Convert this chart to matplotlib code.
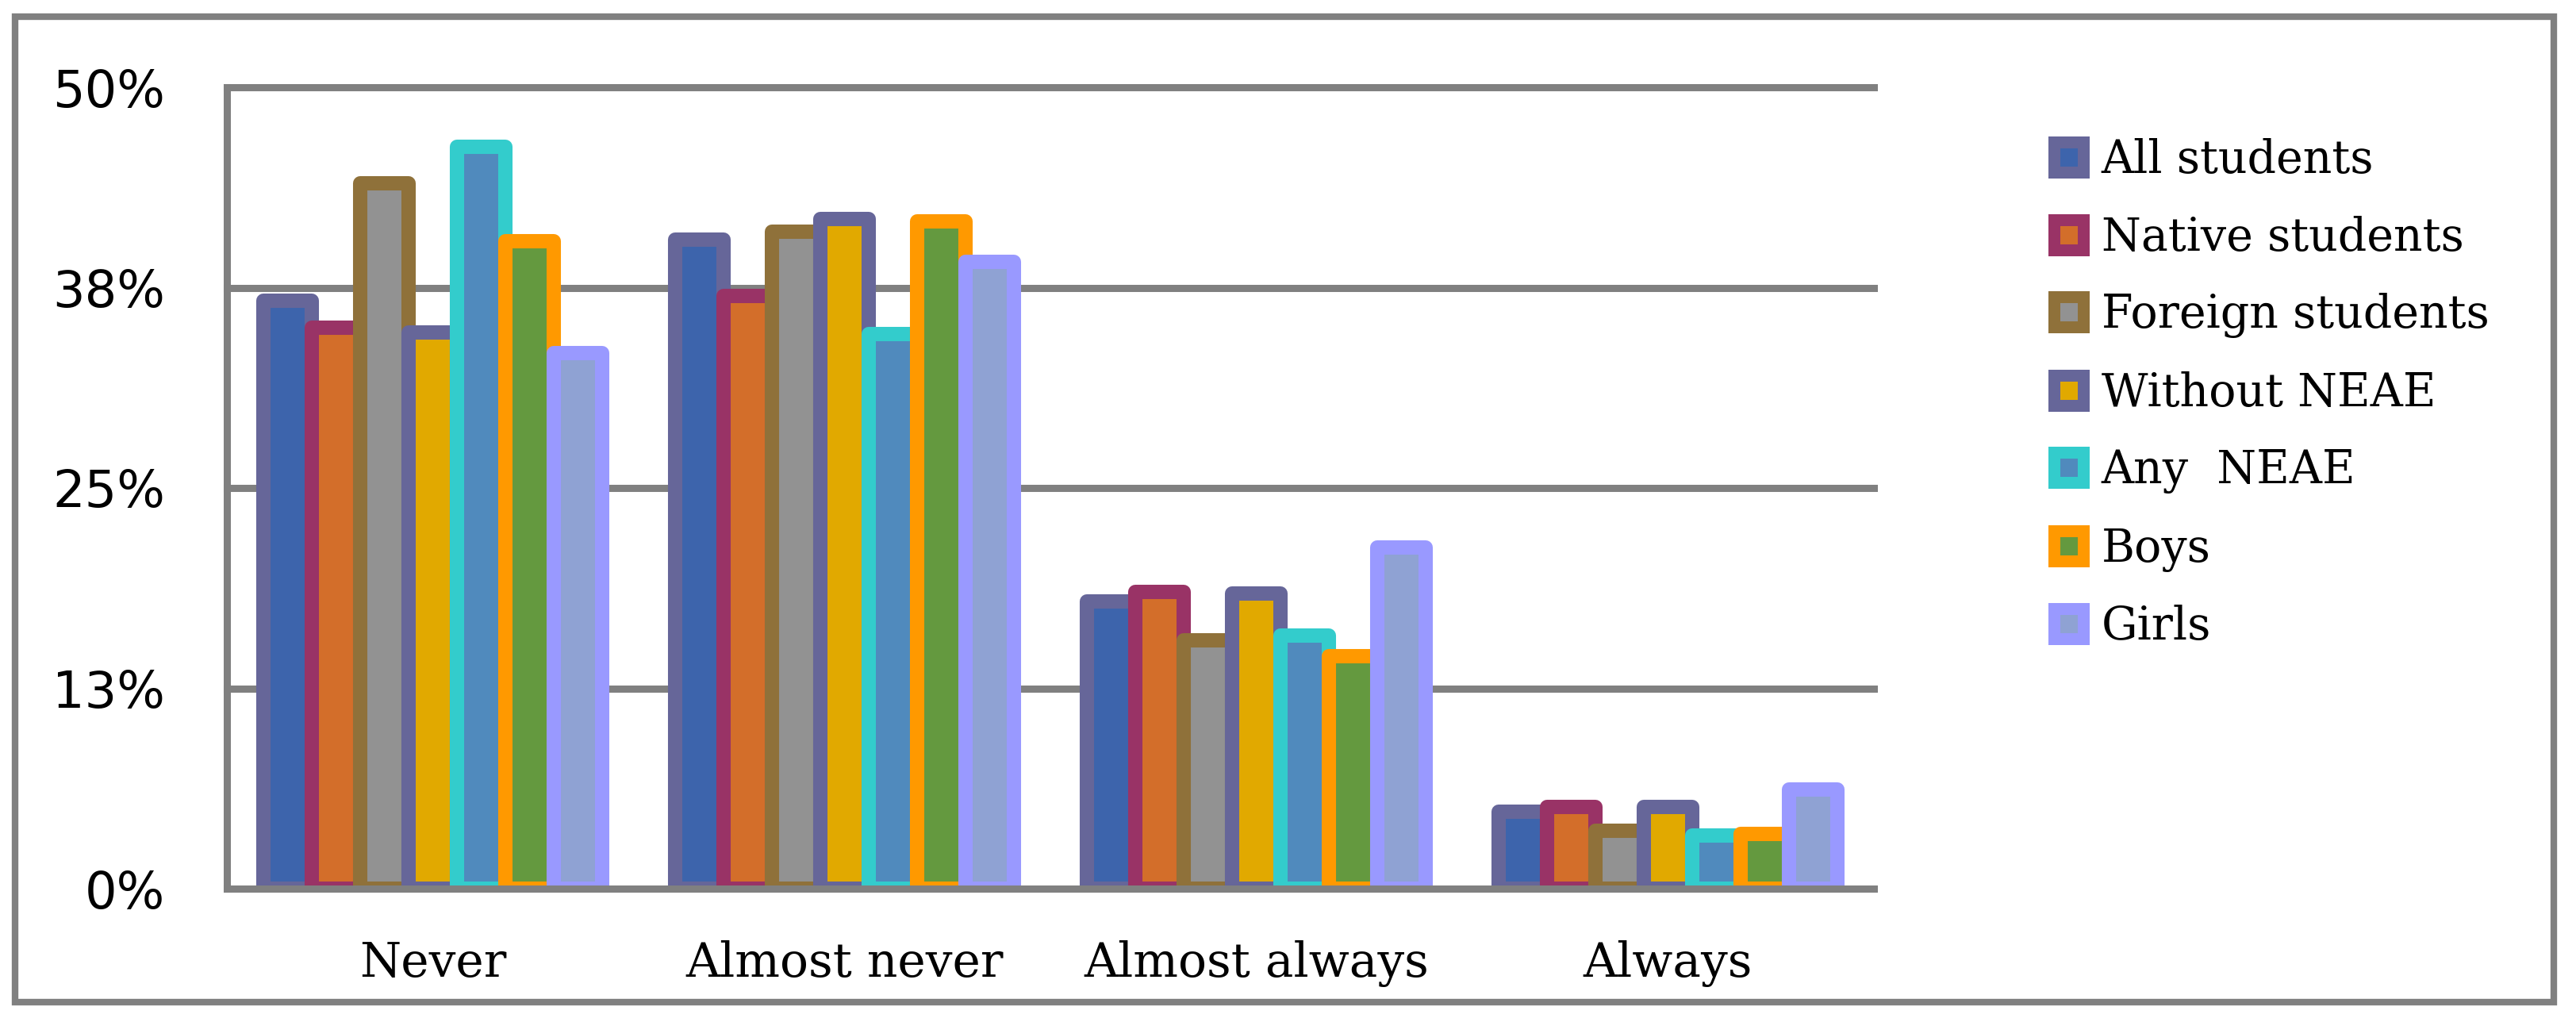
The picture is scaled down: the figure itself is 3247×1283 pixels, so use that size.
import matplotlib.pyplot as plt
from matplotlib.patches import Rectangle, Patch
import numpy as np

# categories and groups
categories = ['Never', 'Almost never', 'Almost always', 'Always']
groups = ['All students', 'Native students', 'Foreign students', 'Without NEAE',
          'Any  NEAE', 'Boys', 'Girls']

# percentages (one list per group)
all_students = [36.7, 40.5, 17.9, 4.8]
native_students = [35.0, 37.0, 18.5, 5.1]
foreign_students = [44.0, 41.0, 15.5, 3.6]
without_neae = [34.7, 41.8, 18.4, 5.1]
any_neae = [46.3, 34.6, 15.8, 3.3]
boys = [40.4, 41.65, 14.5, 3.4]
girls = [33.4, 39.1, 21.3, 6.2]

yticks = [0, 12.5, 25, 37.5, 50]
ytick_labels = ['0%', '13%', '25%', '38%', '50%']

series = [all_students, native_students, foreign_students, without_neae,
          any_neae, boys, girls]
edge_cols = ['#666699', '#993366', '#8F713A', '#666699', '#33CCCC', '#FF9900', '#9999FF']
fill_cols = ['#3D64AC', '#D36E2A', '#929292', '#E1A900', '#508ABD', '#64993F', '#8FA2D3']

W, H = 3247, 1283
fig = plt.figure(figsize=(W / 100, H / 100), dpi=100)

# axes placed in pixel terms
left, right, top, bottom = 286, 2362, 110, 1120
ax = fig.add_axes([left / W, 1 - bottom / H, (right - left) / W, (bottom - top) / H])

x = np.arange(len(categories))
w = 0.1175
for j, vals in enumerate(series):
    ax.bar(x + (j - 3) * w, vals, width=w, color=fill_cols[j], edgecolor=edge_cols[j],
           linewidth=13, joinstyle='round', zorder=1, label=groups[j])

ax.set_xlim(-0.5, 3.5)
ax.set_ylim(0, 50)

for y in yticks[1:]:
    ax.axhline(y, color='#808080', lw=6.5, zorder=0.5, clip_on=False)

ax.set_yticks(yticks)
ax.set_yticklabels(ytick_labels, fontsize=46, family='DejaVu Sans')
ax.set_xticks(x)
ax.set_xticklabels(categories, fontsize=43, family='DejaVu Serif')
ax.tick_params(axis='y', length=0, pad=56)
ax.tick_params(axis='x', length=0, pad=47)

for s in ['top', 'right']:
    ax.spines[s].set_visible(False)
for s in ['left', 'bottom']:
    ax.spines[s].set_color('#808080')
    ax.spines[s].set_linewidth(6.5)
    ax.spines[s].set_zorder(3)

# legend with square handles
handles = [Patch(facecolor=fill_cols[j], edgecolor=edge_cols[j], linewidth=10.8,
                 joinstyle='round') for j in range(len(groups))]
fig.legend(handles, groups, loc='upper left', bbox_to_anchor=(2589 / W, 1 - 174 / H),
           frameon=False, prop={'family': 'DejaVu Serif', 'size': 41},
           handlelength=0.65, handleheight=0.65, handletextpad=0.4,
           labelspacing=0.73, borderpad=0, borderaxespad=0)

# outer frame around the whole chart
frame = Rectangle((19 / W, 1 - 1263 / H), (3219 - 19) / W, (1263 - 21) / H,
                  transform=fig.transFigure, fill=False, edgecolor='#808080', lw=6)
fig.patches.append(frame)

plt.savefig('out.png', dpi=100)
